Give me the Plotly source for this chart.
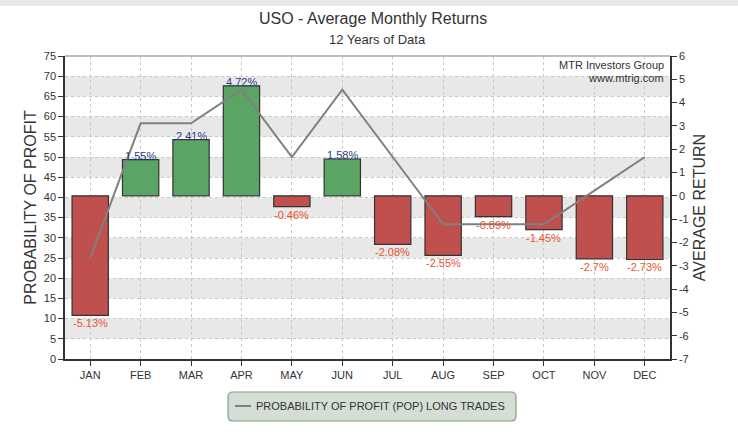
import plotly.graph_objects as go

months = ["JAN", "FEB", "MAR", "APR", "MAY", "JUN", "JUL", "AUG", "SEP", "OCT", "NOV", "DEC"]
avg_return = [-5.13, 1.55, 2.41, 4.72, -0.46, 1.58, -2.08, -2.55, -0.89, -1.45, -2.7, -2.73]
pop_long = [25, 58.33, 58.33, 66.67, 50, 66.67, 50, 33.33, 33.33, 33.33, 41.67, 50]
pop_ticks = list(range(0, 80, 5))
ret_ticks = list(range(-7, 7))
legend_label = "PROBABILITY OF PROFIT (POP) LONG TRADES"

W, H = 738, 443
L, R, T, B = 65, 68, 56, 84
PW, PH = W - L - R, H - T - B

def px(x):
    return (x - L) / PW

def py(y):
    return (H - B - y) / PH

POS_BAR, NEG_BAR = "#5ba564", "#c0504d"
POS_TXT, NEG_TXT = "#2e3a8c", "#e8542c"
LINE_COL = "#808080"
FONT = "Liberation Sans, Arial, sans-serif"

fig = go.Figure()
fig.add_trace(go.Bar(
    x=months, y=avg_return, yaxis="y", width=0.72,
    marker=dict(color=[POS_BAR if v >= 0 else NEG_BAR for v in avg_return],
                line=dict(color="#333333", width=1.2)),
    showlegend=False, name="Average Return",
))
fig.add_trace(go.Scatter(
    x=months, y=pop_long, yaxis="y2", mode="lines",
    line=dict(color=LINE_COL, width=2),
    name=legend_label, showlegend=False,
))

shapes = []
# alternating bands following the left axis
for lo in range(5, 75, 10):
    shapes.append(dict(type="rect", xref="paper", yref="y2", x0=0, x1=1, y0=lo, y1=lo + 5,
                       fillcolor="#e8e8e8", line=dict(width=0), layer="below"))
# top border line
shapes.append(dict(type="line", xref="paper", yref="paper", x0=0, x1=1, y0=1, y1=1,
                   line=dict(color="#a8a8a8", width=1.5)))
# page strip at top
shapes.append(dict(type="rect", xref="paper", yref="paper", x0=px(0), x1=px(W), y0=py(6), y1=py(0),
                   fillcolor="#e8e8e8", line=dict(width=0), layer="below"))
# rounded legend box
x0, x1, y0, y1, r = px(228), px(516), py(392), py(421), 5
rx, ry = r / PW, r / PH
path = (f"M {x0+rx},{y0} L {x1-rx},{y0} Q {x1},{y0} {x1},{y0-ry} L {x1},{y1+ry} "
        f"Q {x1},{y1} {x1-rx},{y1} L {x0+rx},{y1} Q {x0},{y1} {x0},{y1+ry} "
        f"L {x0},{y0-ry} Q {x0},{y0} {x0+rx},{y0} Z")
shapes.append(dict(type="path", xref="paper", yref="paper", path=path,
                   fillcolor="#d5ded5", line=dict(color="#8a9a8a", width=1.2)))
# legend sample line
shapes.append(dict(type="line", xref="paper", yref="paper", x0=px(235), x1=px(251), y0=py(406), y1=py(406),
                   line=dict(color=LINE_COL, width=2)))

annotations = [
    dict(text="USO - Average Monthly Returns", xref="paper", yref="paper", x=px(373), y=py(18),
         showarrow=False, font=dict(size=16, color="#333333", family=FONT), xanchor="center", yanchor="middle"),
    dict(text="12 Years of Data", xref="paper", yref="paper", x=px(377), y=py(39),
         showarrow=False, font=dict(size=13, color="#333333", family=FONT), xanchor="center", yanchor="middle"),
    dict(text="MTR Investors Group", xref="paper", yref="paper", x=px(666), y=py(65),
         showarrow=False, font=dict(size=11, color="#333333", family=FONT), xanchor="right", yanchor="middle"),
    dict(text="www.mtrig.com", xref="paper", yref="paper", x=px(666), y=py(78),
         showarrow=False, font=dict(size=11, color="#333333", family=FONT), xanchor="right", yanchor="middle"),
    dict(text=legend_label, xref="paper", yref="paper", x=px(254), y=py(406),
         showarrow=False, font=dict(size=11, color="#333333", family=FONT), xanchor="left", yanchor="middle"),
]
for m, v in zip(months, avg_return):
    lbl = f"{v:g}%"
    annotations.append(dict(
        text=lbl, x=m, y=v, xref="x", yref="y", showarrow=False,
        yanchor="middle", yshift=4 if v >= 0 else -8,
        font=dict(size=11, color=POS_TXT if v >= 0 else NEG_TXT, family=FONT),
    ))

fig.update_layout(
    width=W, height=H,
    margin=dict(l=L, r=R, t=T, b=B, autoexpand=False),
    paper_bgcolor="white", plot_bgcolor="white",
    font=dict(family=FONT, color="#333333", size=11),
    bargap=0.28,
    xaxis=dict(type="category", range=[-0.5, 11.5], showgrid=True, griddash="dot",
               gridcolor="#c8c8c8", gridwidth=1, ticks="outside", ticklen=5, tickcolor="#333333",
               showline=True, linecolor="#333333", linewidth=1.5,
               tickfont=dict(size=11, color="#333333")),
    yaxis=dict(range=[-7, 6], tickvals=ret_ticks, ticktext=[str(v) for v in ret_ticks],
               side="right", showgrid=False, zeroline=False,
               ticks="outside", ticklen=5, tickcolor="#333333", showline=True,
               linecolor="#333333", linewidth=1.5, tickfont=dict(size=11, color="#333333"),
               title=dict(text="AVERAGE RETURN", font=dict(size=16, color="#333333"), standoff=6)),
    yaxis2=dict(range=[0, 75], tickvals=pop_ticks, side="left", overlaying="y", showgrid=True,
                griddash="dot", gridcolor="#c8c8c8", gridwidth=1, zeroline=False,
                ticks="outside", ticklen=5, tickcolor="#333333", showline=True,
                linecolor="#333333", linewidth=1.5, tickfont=dict(size=11, color="#333333"),
                title=dict(text="PROBABILITY OF PROFIT", font=dict(size=16, color="#333333"), standoff=3)),
    showlegend=False,
    shapes=shapes, annotations=annotations,
)

fig.write_html("out.html")
